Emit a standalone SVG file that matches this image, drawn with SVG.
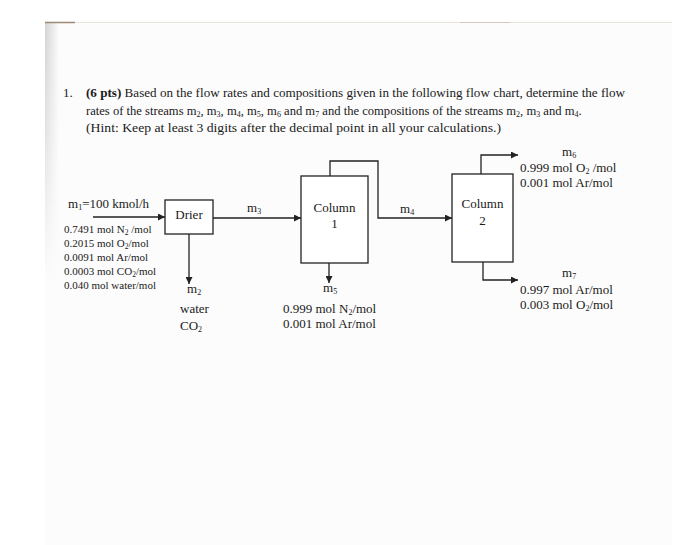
<svg xmlns="http://www.w3.org/2000/svg" width="700" height="545" viewBox="0 0 700 545">
  <defs>
    <marker id="arr" viewBox="0 0 10 10" refX="10" refY="5" markerWidth="7" markerHeight="7" markerUnits="userSpaceOnUse" orient="auto">
      <path d="M0,0 L10,5 L0,10 z" fill="#222"/>
    </marker>
    <linearGradient id="leftShade" x1="0" y1="0" x2="1" y2="0">
      <stop offset="0" stop-color="#d4d4d4"/>
      <stop offset="1" stop-color="#fcfcfc"/>
    </linearGradient>
    <linearGradient id="leftFade" x1="0" y1="0" x2="0" y2="1">
      <stop offset="0" stop-color="#fcfcfc" stop-opacity="0"/>
      <stop offset="0.35" stop-color="#fcfcfc" stop-opacity="0.3"/>
      <stop offset="1" stop-color="#fcfcfc" stop-opacity="1"/>
    </linearGradient>
    <linearGradient id="rightFade" x1="0" y1="0" x2="0" y2="1">
      <stop offset="0" stop-color="#777"/>
      <stop offset="0.7" stop-color="#aaa"/>
      <stop offset="1" stop-color="#eee"/>
    </linearGradient>
  </defs>
  <style>
    text { font-family: "Liberation Serif", "Times New Roman", serif; fill: #1a1a1a; }
    .hd { font-size: 13px; }
    .lbl { font-size: 13px; }
    .sm { font-size: 11px; }
    .box { fill: #fff; stroke: #222; stroke-width: 1.3; }
    .con { fill: none; stroke: #222; stroke-width: 1.3; marker-end: url(#arr); }
  </style>

  <!-- page background -->
  <rect x="0" y="0" width="700" height="545" fill="#ffffff"/>
  <rect x="45" y="22" width="627" height="523" fill="#fcfcfc"/>
  <rect x="45" y="22" width="14" height="260" fill="url(#leftShade)"/>
  <rect x="45" y="22" width="14" height="260" fill="url(#leftFade)"/>
  <line x1="45" y1="22.5" x2="672" y2="22.5" stroke="#e8e3dc" stroke-width="1"/>
  <line x1="45" y1="22.5" x2="75" y2="22.5" stroke="#9c8a74" stroke-width="1.5"/>
  <line x1="460" y1="22.5" x2="510" y2="22.5" stroke="#d4c8b8" stroke-width="1"/>
  <line x1="672" y1="22" x2="672" y2="470" stroke="url(#rightFade)" stroke-width="1.2"/>

  <!-- header -->
  <g id="header">
    <text class="hd" x="63" y="97">1.</text>
    <text class="hd" x="86" y="97" textLength="539" lengthAdjust="spacingAndGlyphs"><tspan font-weight="bold">(6 pts)</tspan> Based on the flow rates and compositions given in the following flow chart, determine the flow</text>
    <text class="hd" x="86" y="115" style="font-size:12.6px">rates of the streams m<tspan font-size="8" dy="2">2</tspan><tspan dy="-2">, m</tspan><tspan font-size="8" dy="2">3</tspan><tspan dy="-2">, m</tspan><tspan font-size="8" dy="2">4</tspan><tspan dy="-2">, m</tspan><tspan font-size="8" dy="2">5</tspan><tspan dy="-2">, m</tspan><tspan font-size="8" dy="2">6</tspan><tspan dy="-2"> and m</tspan><tspan font-size="8" dy="2">7</tspan><tspan dy="-2"> and the compositions of the streams m</tspan><tspan font-size="8" dy="2">2</tspan><tspan dy="-2">, m</tspan><tspan font-size="8" dy="2">3</tspan><tspan dy="-2"> and m</tspan><tspan font-size="8" dy="2">4</tspan><tspan dy="-2">.</tspan></text>
    <text class="hd" x="86" y="132" textLength="415" lengthAdjust="spacingAndGlyphs">(Hint: Keep at least 3 digits after the decimal point in all your calculations.)</text>
  </g>

  <!-- connectors -->
  <g id="connectors">
    <line class="con" x1="93" y1="217" x2="165" y2="217"/>
    <line class="con" x1="213" y1="218" x2="301" y2="218"/>
    <line class="con" x1="189" y1="234" x2="189" y2="284"/>
    <polyline class="con" points="330,176 330,161 378,161 378,218 452,218"/>
    <line class="con" x1="329" y1="263" x2="329" y2="283"/>
    <polyline class="con" points="481,174 481,155 518,155"/>
    <polyline class="con" points="483,262 483,280 518,280"/>
  </g>

  <!-- nodes -->
  <g id="drier">
    <rect class="box" x="165" y="200" width="48" height="34"/>
    <text class="lbl" x="189" y="219" text-anchor="middle">Drier</text>
  </g>
  <g id="column1">
    <rect class="box" x="301" y="176" width="67" height="87"/>
    <text class="lbl" x="334.5" y="212" text-anchor="middle">Column</text>
    <text class="lbl" x="334.5" y="228" text-anchor="middle">1</text>
  </g>
  <g id="column2">
    <rect class="box" x="452" y="174" width="61" height="88"/>
    <text class="lbl" x="482.5" y="208" text-anchor="middle">Column</text>
    <text class="lbl" x="482.5" y="225" text-anchor="middle">2</text>
  </g>

  <!-- stream m1 -->
  <g id="stream-m1">
    <text class="lbl" x="68" y="208">m<tspan font-size="8" dy="2">1</tspan><tspan dy="-2">=100 kmol/h</tspan></text>
    <text class="sm" x="64" y="233">0.7491 mol N<tspan font-size="7.5" dy="2">2</tspan><tspan dy="-2"> /mol</tspan></text>
    <text class="sm" x="64" y="247">0.2015 mol O<tspan font-size="7.5" dy="2">2</tspan><tspan dy="-2">/mol</tspan></text>
    <text class="sm" x="64" y="261">0.0091 mol Ar/mol</text>
    <text class="sm" x="64" y="275">0.0003 mol CO<tspan font-size="7.5" dy="2">2</tspan><tspan dy="-2">/mol</tspan></text>
    <text class="sm" x="64" y="289">0.040  mol water/mol</text>
  </g>

  <!-- stream m2 -->
  <g id="stream-m2">
    <text class="lbl" x="187" y="293">m<tspan font-size="8" dy="2">2</tspan></text>
    <text class="lbl" x="180" y="313">water</text>
    <text class="lbl" x="180" y="330">CO<tspan font-size="8" dy="2">2</tspan></text>
  </g>

  <!-- stream m3 -->
  <g id="stream-m3">
    <text class="lbl" x="247" y="212">m<tspan font-size="8" dy="2">3</tspan></text>
  </g>

  <!-- stream m4 -->
  <g id="stream-m4">
    <text class="lbl" x="400" y="213">m<tspan font-size="8" dy="2">4</tspan></text>
  </g>

  <!-- stream m5 -->
  <g id="stream-m5">
    <text class="lbl" x="323" y="292">m<tspan font-size="8" dy="2">5</tspan></text>
    <text class="lbl" x="283" y="313">0.999 mol N<tspan font-size="8" dy="2">2</tspan><tspan dy="-2">/mol</tspan></text>
    <text class="lbl" x="283" y="328">0.001 mol Ar/mol</text>
  </g>

  <!-- stream m6 -->
  <g id="stream-m6">
    <text class="lbl" x="562" y="156">m<tspan font-size="8" dy="2">6</tspan></text>
    <text class="lbl" x="520" y="172">0.999 mol O<tspan font-size="8" dy="2">2</tspan><tspan dy="-2"> /mol</tspan></text>
    <text class="lbl" x="520" y="187">0.001 mol Ar/mol</text>
  </g>

  <!-- stream m7 -->
  <g id="stream-m7">
    <text class="lbl" x="562" y="277">m<tspan font-size="8" dy="2">7</tspan></text>
    <text class="lbl" x="520" y="294">0.997 mol Ar/mol</text>
    <text class="lbl" x="520" y="309">0.003 mol O<tspan font-size="8" dy="2">2</tspan><tspan dy="-2">/mol</tspan></text>
  </g>
</svg>
